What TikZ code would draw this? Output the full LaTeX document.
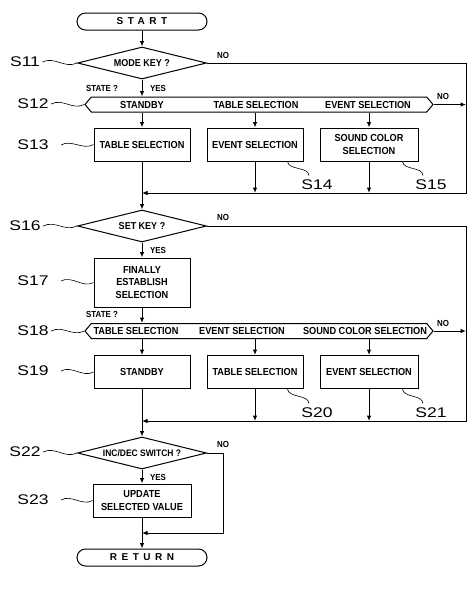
\documentclass[tikz,border=0pt]{standalone}
\usepackage{fontspec}
\setmainfont{Liberation Sans}
\newfontfamily\stepfont[FakeStretch=1.25]{Liberation Sans}
\newfontfamily\boxfont[FakeStretch=0.9]{Liberation Sans}
\usetikzlibrary{shapes.geometric,shapes.symbols,arrows.meta}

\tikzset{
  box/.style={draw, minimum width=96pt, minimum height=33pt, align=center, inner sep=1pt,
    font=\boxfont\bfseries\fontsize{10.2}{12.5}\selectfont},
  term/.style={draw, rounded corners=8.5pt, minimum width=130pt, minimum height=17pt,
    font=\bfseries\fontsize{10}{12}\selectfont\addfontfeature{LetterSpace=45}},
  decide/.style={draw, diamond, aspect=4, minimum width=129pt, minimum height=32pt, inner sep=0pt,
    font=\boxfont\bfseries\fontsize{10}{12}\selectfont},
  hexa/.style={draw, signal, signal to=west and east, signal pointer angle=100,
    minimum width=348pt, minimum height=15pt, inner sep=0pt},
  opt/.style={inner sep=0pt, font=\boxfont\bfseries\fontsize{10.2}{12}\selectfont},
  tag/.style={inner sep=0pt, font=\boxfont\bfseries\fontsize{8.8}{10}\selectfont},
  steplbl/.style={inner sep=0pt, font=\stepfont\fontsize{14}{14}\selectfont},
  leader/.style={line width=0.6pt},
}

\begin{document}
\begin{tikzpicture}[x=1pt, y=-1pt, line width=1pt, >={Latex[length=5.5pt,width=4.5pt]}]
    \useasboundingbox (0,0) rectangle (474,592);
    % start and first decision
    \node[term] (start) at (142,21.5) {START};
    \node[decide] (s11) at (142,63) {MODE KEY ?};
    \node[hexa] (s12) at (259,104.5) {};
    \node[opt] at (142,104.5) {STANDBY};
    \node[opt] at (256,104.5) {TABLE SELECTION};
    \node[opt] at (368,104.5) {EVENT SELECTION};
    \node[box] (b13) at (142,144.5) {TABLE SELECTION};
    \node[box] (b14) at (255,144.5) {EVENT SELECTION};
    \node[box, minimum width=98pt] (b15) at (369,144.5) {SOUND COLOR\\SELECTION};
    \coordinate (m1) at (142,193);
    \coordinate (r1) at (466,193);
    \draw[->] (start) -- (s11);
    \draw[->] (s11.south) -- (s11.south |- s12.north);
    \draw[->] (s11.east) -| (r1) -- (m1);
    \draw[->] (s12.east) -- (s12.east -| r1);
    \draw[->] (s12.south -| b13) -- (b13);
    \draw[->] (s12.south -| b14) -- (b14);
    \draw[->] (s12.south -| b15) -- (b15);
    \draw[->] (b14) -- (b14 |- m1);
    \draw[->] (b15) -- (b15 |- m1);
    \node[tag] at (102,88) {STATE ?};
    \node[tag] at (158,88) {YES};
    \node[tag] at (223,55) {NO};
    \node[tag] at (443,96) {NO};
    % set key
    \node[decide] (s16) at (142,226) {SET KEY ?};
    \node[box, minimum height=49pt] (b17) at (142,282.5) {FINALLY\\ESTABLISH\\SELECTION};
    \node[hexa] (s18) at (259,331) {};
    \node[opt] at (136,331) {TABLE SELECTION};
    \node[opt] at (242,331) {EVENT SELECTION};
    \node[opt] at (365,331) {SOUND COLOR SELECTION};
    \node[box] (b19) at (142,372) {STANDBY};
    \node[box] (b20) at (255,372) {TABLE SELECTION};
    \node[box, minimum width=98pt] (b21) at (369,372) {EVENT SELECTION};
    \coordinate (m2) at (142,421);
    \coordinate (r2) at (466,421);
    \draw[->] (b13) -- (s16);
    \draw[->] (s16) -- (b17);
    \draw[->] (b17) -- (b17.south |- s18.north);
    \draw[->] (s16.east) -| (r2) -- (m2);
    \draw[->] (s18.east) -- (s18.east -| r2);
    \draw[->] (s18.south -| b19) -- (b19);
    \draw[->] (s18.south -| b20) -- (b20);
    \draw[->] (s18.south -| b21) -- (b21);
    \draw[->] (b20) -- (b20 |- m2);
    \draw[->] (b21) -- (b21 |- m2);
    \node[tag] at (223,217) {NO};
    \node[tag] at (158,250) {YES};
    \node[tag] at (102,314) {STATE ?};
    \node[tag] at (443,323) {NO};
    % inc/dec
    \node[decide, font=\boxfont\bfseries\fontsize{9.4}{11}\selectfont] (s22) at (142,453) {INC/DEC SWITCH ?};
    \node[box, minimum width=98pt] (b23) at (142,500.5) {UPDATE\\SELECTED VALUE};
    \node[term] (ret) at (142,557.5) {RETURN};
    \coordinate (m3) at (142,533);
    \coordinate (r3) at (223,533);
    \draw[->] (b19) -- (s22);
    \draw[->] (s22) -- (b23);
    \draw[->] (b23) -- (ret);
    \draw[->] (s22.east) -| (r3) -- (m3);
    \node[tag] at (223,444) {NO};
    \node[tag] at (158,477) {YES};
    % step labels
    \node[steplbl] (l11) at (25,62) {S11};
    \node[steplbl] (l12) at (33,104) {S12};
    \node[steplbl] (l13) at (33,145) {S13};
    \node[steplbl] (l14) at (317,185) {S14};
    \node[steplbl] (l15) at (431,185) {S15};
    \node[steplbl] (l16) at (25,226) {S16};
    \node[steplbl] (l17) at (33,281) {S17};
    \node[steplbl] (l18) at (33,331) {S18};
    \node[steplbl] (l19) at (33,371) {S19};
    \node[steplbl] (l20) at (317,413) {S20};
    \node[steplbl] (l21) at (431,413) {S21};
    \node[steplbl] (l22) at (25,452) {S22};
    \node[steplbl] (l23) at (33,500) {S23};
    \draw[leader] ([xshift=2pt]l11.east) .. controls +(12,-6) and +(-12,6) .. (s11.west);
    \draw[leader] ([xshift=2pt]l12.east) .. controls +(12,-6) and +(-12,6) .. (s12.west);
    \draw[leader] ([xshift=12pt]l13.east) .. controls +(10,-6) and +(-10,6) .. (b13.west);
    \draw[leader] ([xshift=2pt]l16.east) .. controls +(12,-6) and +(-12,6) .. (s16.west);
    \draw[leader] ([xshift=12pt]l17.east) .. controls +(10,-6) and +(-10,6) .. (b17.west);
    \draw[leader] ([xshift=2pt]l18.east) .. controls +(12,-6) and +(-12,6) .. (s18.west);
    \draw[leader] ([xshift=12pt]l19.east) .. controls +(10,-6) and +(-10,6) .. (b19.west);
    \draw[leader] ([xshift=2pt]l22.east) .. controls +(12,-6) and +(-12,6) .. (s22.west);
    \draw[leader] ([xshift=12pt]l23.east) .. controls +(10,-6) and +(-10,6) .. (b23.west);
    \draw[leader] ([xshift=-16pt]b14.south east) .. controls +(1,9) and +(0,-9) .. ([xshift=8pt,yshift=4pt]l14.north west);
    \draw[leader] ([xshift=-16pt]b15.south east) .. controls +(1,9) and +(0,-9) .. ([xshift=8pt,yshift=4pt]l15.north west);
    \draw[leader] ([xshift=-16pt]b20.south east) .. controls +(1,9) and +(0,-9) .. ([xshift=8pt,yshift=4pt]l20.north west);
    \draw[leader] ([xshift=-16pt]b21.south east) .. controls +(1,9) and +(0,-9) .. ([xshift=8pt,yshift=4pt]l21.north west);
\end{tikzpicture}
\end{document}
